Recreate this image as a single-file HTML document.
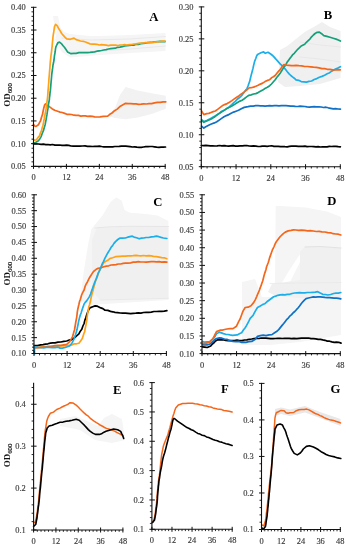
<!DOCTYPE html>
<html><head><meta charset="utf-8"><style>
html,body{margin:0;padding:0;background:#fff;}
body{width:346px;height:550px;overflow:hidden;font-family:"Liberation Serif", serif;}
svg{display:block;will-change:transform;}
.tl{font-size:8.4px;fill:#3a3a3a;stroke:#3a3a3a;stroke-width:0.15px;}
</style></head><body>
<svg width="346" height="550" viewBox="0 0 346 550" font-family='"Liberation Serif", serif' font-size="8" fill="#262626">
<rect width="346" height="550" fill="#fff"/>
<polygon points="53.0,16.0 58.0,16.0 60.0,26.0 58.0,30.0 55.0,30.0" fill="#f5f5f5" fill-opacity="1" stroke="none"/>
<polygon points="57.0,30.0 60.0,27.0 64.0,32.0 70.0,34.0 90.0,36.0 100.0,36.0 130.0,35.0 165.5,33.0 165.5,51.0 130.0,53.0 100.0,55.0 70.0,57.5 62.0,52.0 58.0,45.0 55.0,40.0" fill="#f5f5f5" fill-opacity="1" stroke="none"/>
<polyline points="62.0,38.0 90.0,40.0 130.0,39.0 165.5,36.5" fill="none" stroke="#e6e6e6" stroke-width="0.8" stroke-linejoin="round" stroke-linecap="round"/>
<polyline points="68.0,51.0 90.0,51.5 130.0,49.0 165.5,46.0" fill="none" stroke="#e6e6e6" stroke-width="0.8" stroke-linejoin="round" stroke-linecap="round"/>
<polygon points="108.0,116.0 115.0,108.0 120.0,95.0 125.6,87.1 137.7,90.6 151.6,93.2 165.8,95.8 165.8,108.8 151.6,114.0 137.7,117.5 125.6,119.2 115.0,118.0" fill="#f2f2f2" fill-opacity="1" stroke="none"/>
<polygon points="280.0,50.0 287.3,46.0 296.0,39.0 304.7,32.1 316.8,25.2 322.0,22.0 330.0,27.0 340.5,31.0 340.5,78.0 320.0,84.0 300.0,86.0 285.0,87.0 278.0,82.0" fill="#f0f0f0" fill-opacity="1" stroke="none"/>
<polyline points="300.0,42.0 320.0,45.0 340.5,47.0" fill="none" stroke="#e6e6e6" stroke-width="0.8" stroke-linejoin="round" stroke-linecap="round"/>
<polyline points="300.0,57.0 320.0,59.0 340.5,62.0" fill="none" stroke="#e6e6e6" stroke-width="0.8" stroke-linejoin="round" stroke-linecap="round"/>
<polygon points="80.0,300.0 84.0,270.0 88.0,245.0 91.5,229.0 102.5,215.5 110.7,201.7 116.2,197.6 121.7,200.4 124.5,210.0 130.0,212.7 146.4,214.1 157.4,215.5 168.4,221.0 168.4,300.0 120.0,303.0 90.0,305.0" fill="#f5f5f5" fill-opacity="1" stroke="none"/>
<polygon points="92.0,240.0 97.0,227.8 130.0,226.5 168.4,226.5 168.4,298.5 130.0,299.0 100.0,300.0 92.0,290.0" fill="#f0f0f0" fill-opacity="1" stroke="none"/>
<polyline points="95.0,228.0 110.0,226.8 130.0,226.3 168.4,226.5" fill="none" stroke="#e4e4e4" stroke-width="0.9" stroke-linejoin="round" stroke-linecap="round"/>
<polyline points="100.0,300.0 130.0,299.3 168.4,298.3" fill="none" stroke="#e6e6e6" stroke-width="0.8" stroke-linejoin="round" stroke-linecap="round"/>
<polygon points="275.0,283.0 275.7,206.0 281.0,206.0 305.6,207.5 327.8,211.7 341.0,217.0 341.0,247.0 305.0,247.0 296.0,260.0 287.0,274.0 280.0,286.0" fill="#f5f5f5" fill-opacity="1" stroke="none"/>
<polygon points="242.0,282.0 255.0,279.0 262.0,297.0 282.0,297.0 290.0,282.0 300.0,262.0 306.0,252.0 341.0,250.0 341.0,335.0 300.0,342.0 270.0,345.0 242.0,345.0" fill="#f5f5f5" fill-opacity="1" stroke="none"/>
<polygon points="300.0,252.0 305.0,246.5 341.0,247.5 341.0,298.0 300.0,298.0 276.0,296.0 268.0,292.0 272.0,284.0 300.0,280.0" fill="#f0f0f0" fill-opacity="1" stroke="none"/>
<polyline points="305.0,247.0 320.0,246.5 341.0,248.0" fill="none" stroke="#e2e2e2" stroke-width="1.0" stroke-linejoin="round" stroke-linecap="round"/>
<polyline points="270.0,283.5 300.0,283.0 341.0,282.5" fill="none" stroke="#e8e8e8" stroke-width="0.8" stroke-linejoin="round" stroke-linecap="round"/>
<polygon points="60.0,419.0 75.0,416.0 85.0,420.0 98.0,426.0 104.0,418.0 112.0,414.0 122.0,419.0 125.0,440.0 112.0,443.0 95.0,440.0 80.0,430.0 60.0,426.0" fill="#f5f5f5" fill-opacity="1" stroke="none"/>
<polygon points="275.0,409.0 281.0,407.5 290.0,409.5 305.0,406.0 320.0,412.0 340.5,419.0 340.5,426.0 320.0,418.0 305.0,412.5 290.0,416.0 281.0,414.0 275.0,416.0" fill="#e8e8e8" fill-opacity="1" stroke="none"/>
<polyline points="33.4,124.4 34.7,126.0 36.1,126.4 38.4,124.8 39.5,122.6 40.6,120.7 41.5,117.2 42.5,114.4 43.1,111.2 43.8,108.0 44.7,104.8 45.6,103.9 47.0,105.3 49.3,106.6 52.0,108.7 54.7,110.3 58.4,111.5 60.0,112.1 62.3,112.5 64.6,113.4 66.9,114.3 69.2,114.4 71.6,114.5 73.9,115.2 76.2,115.3 78.5,115.4 80.8,116.1 83.1,115.9 85.4,115.9 87.7,116.4 90.0,116.1 92.4,116.4 94.7,116.9 97.3,117.0 99.9,116.9 103.4,116.4 107.7,116.1 109.8,114.3 112.0,113.0 114.6,110.7 117.2,109.1 120.4,106.2 123.0,104.7 125.6,103.3 128.2,103.7 130.8,103.6 133.4,103.9 136.0,103.9 138.6,104.3 141.2,104.1 143.8,103.8 146.4,104.0 149.0,103.7 151.6,103.6 154.5,102.9 157.4,102.4 160.3,102.4 163.1,101.8 165.8,101.9" fill="none" stroke="#F4661A" stroke-width="1.7" stroke-linejoin="round" stroke-linecap="round"/>
<polyline points="33.4,143.0 35.6,142.5 38.4,140.7 39.8,138.9 41.1,136.6 42.2,133.5 43.4,130.7 44.3,127.6 45.2,124.4 45.6,122.1 46.1,119.5 46.5,117.1 47.0,114.4 47.4,111.3 47.9,108.9 48.3,105.2 48.8,102.5 49.3,100.0 49.5,97.3 49.8,95.5 50.0,93.2 50.3,90.9 50.5,88.9 50.7,86.6 50.9,84.2 51.1,81.8 51.3,79.8 51.5,77.5 51.7,75.0 52.0,72.4 52.4,70.0 52.7,67.5 53.0,65.0 53.5,62.8 54.0,60.0 54.2,58.0 54.5,55.5 54.9,53.3 55.2,51.5 55.5,48.9 55.9,46.8 57.0,44.5 58.1,42.5 59.5,42.2 61.7,43.9 63.1,45.8 64.6,47.5 66.0,49.5 67.5,51.9 71.1,53.7 73.6,53.4 76.1,53.3 79.0,52.6 81.9,52.6 84.6,52.5 87.3,52.6 90.0,52.4 92.3,52.1 94.6,51.9 96.9,51.2 99.2,50.8 101.5,50.5 103.8,50.0 106.2,49.6 108.5,49.0 110.8,48.6 113.1,48.4 115.4,48.2 117.7,47.3 120.0,47.1 122.3,46.7 124.7,45.9 127.0,45.7 129.3,45.4 131.6,45.1 133.9,45.1 136.2,44.3 138.5,44.4 140.8,43.7 143.2,43.3 145.5,43.1 147.8,42.7 150.3,42.3 152.7,42.2 155.2,41.9 157.7,41.6 160.2,41.4 162.6,41.7 165.1,41.6" fill="none" stroke="#16A07A" stroke-width="1.7" stroke-linejoin="round" stroke-linecap="round"/>
<polyline points="33.4,139.4 34.7,140.3 36.5,139.8 37.9,137.7 39.3,136.2 40.4,133.1 41.5,130.7 42.1,128.1 42.8,126.0 43.4,123.5 43.8,120.8 44.3,118.5 44.7,116.2 45.2,113.7 45.6,111.6 46.1,108.9 46.4,106.8 46.7,104.5 47.0,101.6 47.5,98.0 47.7,95.8 47.9,93.4 48.0,91.1 48.2,88.9 48.4,86.8 48.6,84.7 48.8,81.9 48.9,79.4 49.1,77.0 49.3,75.0 49.5,72.2 49.7,69.8 49.9,67.5 50.1,64.8 50.3,62.1 50.5,60.0 50.8,57.5 51.0,55.3 51.3,53.3 51.6,51.1 51.8,49.0 52.1,46.6 52.3,44.0 52.5,41.7 52.8,39.3 53.0,36.7 53.4,34.0 53.8,31.8 54.1,29.4 54.5,26.6 55.6,24.4 57.3,25.8 58.8,28.8 60.2,30.9 61.7,33.5 63.1,35.2 64.9,37.1 66.7,38.8 70.3,39.3 74.0,38.1 76.1,39.6 78.3,40.3 80.5,41.0 83.3,41.3 86.2,42.2 90.0,43.9 92.3,44.1 94.6,44.1 96.9,44.3 99.2,45.0 101.5,44.7 103.8,44.9 106.2,45.2 108.5,45.7 110.8,45.2 113.1,45.1 115.4,45.2 117.7,45.7 120.0,45.0 122.3,45.0 124.7,44.7 127.0,45.0 129.3,44.7 131.6,44.5 133.9,44.0 136.2,43.9 138.5,43.4 140.8,43.2 143.2,43.0 145.5,42.6 147.8,42.7 150.1,42.5 152.4,42.6 154.8,42.2 157.1,41.9 159.4,41.6 162.2,41.1 165.1,41.1" fill="none" stroke="#FFA218" stroke-width="1.7" stroke-linejoin="round" stroke-linecap="round"/>
<polyline points="33.4,143.9 36.0,143.8 38.5,144.0 41.1,144.4 43.4,144.2 45.7,144.7 47.9,144.5 50.2,144.8 52.6,144.5 54.9,145.1 57.3,145.2 59.6,145.0 62.0,145.3 64.2,145.3 66.5,145.1 68.8,145.4 71.0,146.0 73.2,146.2 75.5,146.2 77.8,146.0 80.0,146.1 82.5,146.0 85.0,145.9 87.5,146.3 90.0,146.3 92.5,146.5 95.0,146.3 97.2,146.3 99.4,146.1 101.6,146.5 103.8,146.8 106.0,146.9 108.2,146.9 110.4,146.9 112.6,146.9 114.8,146.5 117.0,146.5 119.2,146.4 121.4,146.2 123.6,146.1 125.8,146.2 128.0,146.3 130.2,146.6 132.5,147.0 134.7,146.8 136.9,147.1 139.1,147.3 141.3,147.3 143.5,147.0 145.7,146.7 147.9,146.6 150.1,146.5 152.3,146.5 154.5,146.8 156.7,147.1 158.9,147.3 161.1,147.1 163.3,147.2 165.5,147.0" fill="none" stroke="#000000" stroke-width="1.7" stroke-linejoin="round" stroke-linecap="round"/>
<polyline points="201.3,145.5 203.6,145.7 205.9,145.3 208.1,145.6 210.4,145.9 212.7,145.9 215.0,146.0 217.2,145.8 219.5,145.5 221.8,145.8 224.1,145.6 226.3,145.9 228.6,146.1 230.9,145.9 233.2,145.7 235.4,146.1 237.7,146.1 240.0,145.8 242.3,145.8 244.5,145.6 246.8,145.5 249.1,146.0 251.4,146.2 253.6,145.9 255.9,146.2 258.2,146.5 260.5,146.4 262.7,146.2 265.0,146.2 267.2,146.3 269.4,146.0 271.7,145.8 273.9,146.4 276.1,146.4 278.3,146.4 280.5,146.7 282.7,146.5 285.0,146.7 287.2,146.8 289.4,146.4 291.6,146.2 293.8,146.2 296.0,146.1 298.3,146.4 300.5,146.3 302.7,146.3 304.9,146.2 307.1,146.7 309.4,146.5 311.6,146.5 313.8,146.6 316.0,146.9 318.2,146.7 320.4,147.0 322.7,146.8 324.9,146.8 327.1,146.8 329.3,146.4 331.5,146.5 333.7,146.4 336.0,146.3 338.2,146.7 340.4,146.8" fill="none" stroke="#000000" stroke-width="1.7" stroke-linejoin="round" stroke-linecap="round"/>
<polyline points="201.6,126.2 203.8,128.1 205.7,126.7 207.7,125.7 209.6,124.7 212.0,123.8 214.4,122.9 216.8,121.8 219.2,120.1 221.6,118.4 224.0,116.8 226.4,115.6 228.8,114.6 231.2,113.2 233.6,112.1 236.1,111.2 238.5,110.3 241.3,108.7 244.2,107.4 248.0,106.7 250.6,106.1 253.2,106.1 255.8,105.7 258.1,105.7 260.4,105.8 262.8,105.9 265.1,106.1 267.4,105.9 269.7,105.7 272.0,105.8 274.4,105.7 276.7,105.7 279.0,105.8 281.4,105.7 283.7,105.6 286.0,105.7 288.4,105.8 290.7,106.1 293.1,106.2 295.4,106.4 297.8,106.5 300.1,106.1 302.4,106.3 304.8,106.5 307.1,106.9 309.5,107.1 311.8,106.8 314.1,106.7 316.5,106.9 318.8,106.8 321.2,107.0 323.5,107.5 325.9,107.2 328.3,107.8 330.7,108.3 333.2,108.8 335.6,108.6 338.0,109.0 340.4,109.1" fill="none" stroke="#0E70C6" stroke-width="1.7" stroke-linejoin="round" stroke-linecap="round"/>
<polyline points="201.6,119.7 203.8,121.6 206.7,120.5 209.6,119.1 212.3,117.4 215.0,116.1 216.8,115.0 218.6,114.0 220.4,112.3 222.2,111.0 224.6,109.9 227.1,108.2 229.5,106.6 231.7,104.6 233.8,102.6 235.4,101.4 237.0,99.5 240.2,97.0 241.6,95.7 243.1,93.5 244.5,91.8 247.1,88.4 248.0,86.0 248.8,83.7 249.7,81.4 250.3,78.7 251.0,75.9 251.7,73.3 252.3,71.0 253.0,68.4 253.6,65.5 254.2,63.1 254.9,60.6 255.8,58.5 256.6,56.1 257.5,54.5 261.0,52.8 263.6,51.9 265.3,53.3 268.0,52.3 271.4,54.5 273.5,56.4 275.7,58.9 277.3,60.6 278.8,62.4 280.4,64.2 282.1,65.6 283.9,67.8 285.6,69.4 287.3,71.7 289.1,73.9 290.8,75.5 292.5,76.9 294.3,78.2 296.0,79.8 298.6,80.3 301.2,81.6 303.8,81.8 306.4,82.1 309.0,81.4 311.6,81.0 314.2,79.5 316.8,78.6 319.4,77.3 322.0,76.4 324.6,75.3 327.2,73.8 329.1,73.0 331.1,71.6 333.0,70.5 335.5,69.0 337.9,68.1 340.4,66.7" fill="none" stroke="#1AAEEA" stroke-width="1.7" stroke-linejoin="round" stroke-linecap="round"/>
<polyline points="201.6,120.4 203.8,122.3 206.7,121.0 209.6,119.7 212.3,118.4 215.0,116.7 216.8,115.2 218.6,113.7 220.4,112.8 222.2,111.6 224.6,110.1 227.1,108.4 229.5,107.3 231.9,106.0 234.3,104.6 236.7,103.0 240.0,101.1 242.1,100.2 244.2,98.7 246.6,96.9 248.9,95.3 251.2,94.9 253.5,94.0 255.8,93.6 258.1,92.6 260.4,91.3 262.7,90.1 265.0,88.5 267.4,87.2 269.7,85.7 271.5,84.0 273.4,81.8 275.2,79.8 276.9,77.2 278.7,75.1 280.4,72.9 281.7,70.7 283.0,68.6 284.3,66.6 285.6,65.1 286.9,62.6 288.2,60.7 289.5,58.9 290.8,57.3 292.5,54.9 294.3,53.3 296.0,51.2 297.7,49.3 299.5,47.7 301.2,46.0 304.7,44.3 306.4,42.3 308.2,40.6 309.9,39.1 311.6,36.8 313.4,35.0 315.1,33.5 317.2,32.3 319.4,32.1 321.6,33.7 323.8,35.6 326.9,36.4 330.0,37.3 334.0,38.5 336.1,39.1 338.3,40.0 340.4,41.0" fill="none" stroke="#16A07A" stroke-width="1.7" stroke-linejoin="round" stroke-linecap="round"/>
<polyline points="201.6,111.0 203.8,114.6 206.7,113.6 208.8,113.4 211.0,112.5 213.2,111.6 215.3,111.0 217.6,109.4 219.9,107.6 222.2,105.8 224.6,104.6 227.1,103.6 229.5,102.2 231.9,100.6 234.3,98.9 236.7,97.2 239.1,95.7 241.4,93.9 243.3,92.8 245.2,91.0 247.0,89.8 248.9,88.0 251.2,87.7 253.5,87.1 255.8,86.3 258.1,85.3 260.4,84.1 262.7,83.1 265.0,81.6 267.4,80.4 269.7,79.7 271.5,77.8 273.4,76.8 275.2,75.5 276.9,73.3 278.7,71.1 280.4,69.4 282.1,66.6 283.9,64.7 286.5,65.1 289.1,65.4 291.4,65.7 293.7,65.7 296.0,65.4 298.9,65.7 301.8,65.9 304.7,66.5 307.6,66.5 310.5,66.8 313.4,67.2 316.3,67.4 319.1,67.9 322.0,68.6 324.7,68.6 327.3,69.3 330.0,69.4 332.6,69.9 335.2,69.8 337.8,69.6 340.4,69.8" fill="none" stroke="#F4661A" stroke-width="1.7" stroke-linejoin="round" stroke-linecap="round"/>
<polyline points="34.2,345.7 37.5,345.6 40.7,344.9 43.1,344.6 45.5,344.1 47.9,343.8 50.3,343.1 52.7,342.9 55.1,342.8 58.0,342.2 60.9,342.0 63.8,341.4 66.7,341.0 68.8,340.2 71.0,339.9 74.2,338.0 76.6,335.8 78.9,333.9 80.3,331.2 81.8,329.3 82.9,326.0 84.1,323.5 84.9,320.1 85.8,317.7 86.7,314.8 87.5,312.5 88.7,309.7 89.9,307.9 92.7,306.8 95.1,305.9 97.4,306.2 100.8,307.9 102.9,308.6 105.0,310.2 107.8,310.4 110.5,311.4 112.8,311.8 115.0,312.4 117.6,312.6 120.2,313.0 122.8,313.2 125.4,313.2 128.0,313.4 130.6,313.6 133.2,313.3 135.8,313.2 138.4,312.9 140.9,313.1 143.5,312.5 146.1,312.4 148.7,312.3 151.3,312.1 153.9,311.5 156.5,311.5 159.1,311.4 161.7,311.4 164.3,311.1 166.9,310.6" fill="none" stroke="#000000" stroke-width="1.7" stroke-linejoin="round" stroke-linecap="round"/>
<polyline points="34.2,347.5 36.6,347.5 38.9,347.4 41.2,346.8 43.6,346.7 46.1,346.5 48.7,346.3 51.2,346.4 53.7,346.0 56.2,346.3 58.8,346.2 61.3,346.0 63.8,345.7 66.7,345.9 69.6,345.3 71.9,344.9 74.2,343.8 76.6,343.8 78.9,343.2 80.6,340.9 82.3,338.6 83.1,335.9 83.9,333.5 84.7,331.6 85.1,329.0 85.6,326.6 86.0,324.7 86.4,322.4 86.8,319.8 87.1,317.1 87.5,314.3 87.9,312.1 88.3,309.8 88.7,307.3 89.6,304.5 90.4,301.6 91.0,298.2 91.6,295.5 92.2,293.3 92.8,291.2 93.4,288.9 94.0,286.6 94.6,284.4 95.2,282.0 96.1,279.5 97.0,277.5 97.8,275.0 98.7,272.4 99.6,270.5 100.7,268.1 101.8,266.5 102.8,264.3 103.9,262.5 105.8,261.3 107.8,260.3 109.7,258.6 112.6,257.8 115.5,256.7 119.8,256.3 122.6,256.2 125.4,256.1 128.0,255.9 130.6,255.8 133.2,255.7 135.8,255.3 138.4,255.6 140.9,255.8 143.5,255.5 146.1,255.8 148.7,255.7 151.3,255.9 153.9,256.5 156.5,256.7 159.1,257.1 161.7,257.7 164.3,257.8 166.9,258.7" fill="none" stroke="#FFA218" stroke-width="1.7" stroke-linejoin="round" stroke-linecap="round"/>
<polyline points="34.2,348.2 37.5,347.6 40.7,347.7 43.1,347.1 45.5,347.0 47.9,346.7 50.3,346.5 52.7,346.2 55.1,345.7 58.0,345.4 60.9,345.3 63.8,344.8 66.7,344.3 69.6,341.8 71.0,339.4 72.5,337.0 73.2,334.6 73.8,332.0 74.5,330.0 74.9,327.5 75.4,324.5 75.8,322.0 76.2,319.9 76.6,317.8 77.0,315.0 77.3,312.2 77.7,309.7 78.3,306.9 78.9,304.5 79.5,301.6 80.2,299.8 80.9,297.4 81.6,295.0 82.8,292.4 84.1,290.0 85.1,286.4 86.2,284.0 87.3,282.2 88.4,279.8 89.5,277.7 90.9,275.5 92.4,273.1 93.8,271.2 95.9,269.6 98.1,268.3 101.0,267.8 103.9,266.8 106.3,266.1 108.7,265.8 111.1,265.0 113.5,264.8 116.0,264.6 118.4,264.0 120.7,264.0 123.1,263.4 125.4,263.1 128.0,263.1 130.6,262.8 133.2,262.2 135.8,262.2 138.4,261.7 140.9,262.0 143.5,262.0 146.1,262.2 148.7,261.9 151.3,261.7 153.9,261.7 156.5,261.9 159.1,261.7 161.7,262.2 164.3,261.8 166.9,262.2" fill="none" stroke="#F4661A" stroke-width="1.7" stroke-linejoin="round" stroke-linecap="round"/>
<polyline points="34.2,346.7 37.5,347.3 40.7,347.5 43.6,347.8 46.4,347.4 49.3,347.5 52.2,347.6 55.1,347.6 58.0,347.2 60.1,348.1 62.3,348.2 65.2,347.5 67.4,346.8 69.6,346.0 71.9,343.2 73.1,340.8 74.2,338.6 74.9,336.2 75.7,334.2 76.4,331.8 77.1,329.3 77.5,327.0 78.0,324.7 78.5,322.2 78.9,320.1 79.6,317.4 80.3,315.0 81.1,313.1 81.8,310.8 82.6,308.3 83.3,306.4 84.1,303.9 85.5,302.1 87.0,300.4 89.3,296.9 90.6,294.0 91.4,291.5 92.2,289.4 93.0,286.9 93.8,284.9 94.7,282.4 95.5,280.5 96.4,278.4 97.2,276.1 98.1,273.4 99.0,271.7 99.9,269.8 100.7,267.8 101.6,265.5 102.5,263.2 103.6,261.4 104.7,258.7 105.7,256.8 106.8,254.6 108.2,252.2 109.7,249.9 111.1,247.3 112.6,245.6 114.0,243.4 115.5,241.6 117.8,239.5 120.2,238.0 122.8,238.1 125.4,238.0 127.7,237.2 130.0,236.7 132.3,236.2 134.0,237.1 136.6,237.8 139.2,238.8 141.5,238.1 143.8,238.0 146.1,237.5 148.7,237.5 151.3,236.9 153.9,236.6 156.5,236.2 158.8,236.7 161.1,237.4 163.4,238.0 166.9,238.5" fill="none" stroke="#1AAEEA" stroke-width="1.7" stroke-linejoin="round" stroke-linecap="round"/>
<polyline points="34.5,347.0 34.5,354.0" fill="none" stroke="#1AAEEA" stroke-width="1.7" stroke-linejoin="round" stroke-linecap="round"/>
<polyline points="202.3,346.8 204.8,347.1 207.2,347.5 210.7,346.0 212.4,344.0 214.2,342.5 215.9,340.7 217.7,339.7 221.1,339.9 223.4,339.7 225.7,340.5 228.0,340.6 232.0,340.7 234.5,340.6 237.0,340.2 239.5,340.5 242.0,340.6 244.5,340.0 246.9,339.9 249.3,339.3 251.7,339.0 254.1,338.6 256.5,338.4 258.9,338.5 261.2,338.0 263.6,338.1 265.9,338.1 268.3,338.3 270.6,338.6 273.0,338.7 275.3,338.5 277.7,338.4 280.0,338.4 282.3,338.5 284.6,338.4 286.9,338.4 289.2,338.3 291.5,338.7 294.0,338.3 296.6,338.7 299.1,338.4 301.5,338.1 303.9,338.1 306.2,338.1 308.6,338.0 311.0,338.6 313.4,338.6 315.8,338.8 318.2,339.3 320.5,339.4 322.8,339.9 325.0,340.3 327.3,341.1 329.6,341.2 331.9,341.9 334.2,342.4 336.4,342.2 338.7,342.3 341.0,343.1" fill="none" stroke="#000000" stroke-width="1.7" stroke-linejoin="round" stroke-linecap="round"/>
<polyline points="202.3,344.9 204.7,344.8 207.2,344.9 209.6,344.3 211.3,343.0 213.1,341.5 214.8,339.7 216.5,338.5 219.4,337.9 221.9,338.2 224.4,339.1 226.9,339.4 230.0,340.7 232.9,341.3 235.8,341.6 238.7,341.4 241.1,342.3 243.5,342.2 245.9,342.4 248.8,341.7 251.7,341.4 255.3,339.2 257.5,336.4 260.3,335.6 263.2,335.2 266.1,335.6 269.0,334.9 271.9,334.6 274.6,332.8 277.3,331.0 278.9,329.4 280.5,327.4 282.1,325.4 283.7,323.5 285.3,321.4 286.9,319.3 288.5,317.8 290.1,315.8 291.6,314.6 293.2,312.7 294.8,311.5 296.4,309.7 298.0,308.0 299.6,305.9 301.2,303.7 302.8,301.8 304.4,300.2 306.1,298.6 308.4,298.0 310.7,297.5 313.3,296.9 315.6,297.1 317.9,296.9 320.3,296.8 322.6,297.1 324.9,297.4 327.2,297.6 329.4,297.7 331.7,297.8 334.0,298.2 336.3,298.1 338.5,298.4 340.8,298.9" fill="none" stroke="#0E70C6" stroke-width="1.7" stroke-linejoin="round" stroke-linecap="round"/>
<polyline points="202.3,341.4 204.9,342.2 207.2,341.9 209.6,341.7 213.0,339.1 214.8,336.8 216.5,333.9 219.4,332.1 223.4,333.6 225.7,334.3 228.0,334.5 230.0,334.9 232.4,335.3 234.8,335.1 237.2,334.9 239.4,333.7 241.6,332.7 243.4,330.0 245.2,327.7 246.6,325.4 248.1,322.6 249.1,320.7 250.2,318.3 253.1,315.4 254.2,313.2 255.3,311.1 257.5,307.5 260.3,306.0 262.5,304.6 264.7,303.8 266.9,301.8 269.0,300.2 271.3,298.5 273.6,296.8 275.7,296.1 277.9,295.3 280.0,294.8 282.4,294.7 284.9,294.9 287.3,294.4 289.7,294.3 292.1,293.5 294.5,293.0 296.9,292.8 299.5,292.6 302.1,292.8 304.7,292.8 307.6,292.5 310.5,292.5 312.9,292.3 315.3,292.2 317.7,291.7 320.2,293.1 322.7,294.3 325.2,294.5 327.8,295.0 330.7,294.5 333.6,293.5 336.0,293.2 338.4,293.1 340.8,292.5" fill="none" stroke="#1AAEEA" stroke-width="1.7" stroke-linejoin="round" stroke-linecap="round"/>
<polyline points="202.3,343.1 204.9,343.7 207.2,342.9 209.6,342.5 211.3,340.2 213.0,338.5 214.2,336.2 215.3,333.8 216.5,331.6 220.0,330.2 222.3,330.1 224.6,329.5 226.9,329.0 230.0,328.6 233.0,328.6 236.5,326.2 237.7,323.6 238.9,321.1 240.1,319.0 241.1,316.2 242.0,313.8 243.0,311.1 245.2,307.5 248.1,307.2 251.0,305.7 253.8,302.4 255.2,299.8 256.7,296.6 257.6,294.3 258.6,292.1 259.5,290.0 260.3,287.5 261.1,285.7 261.9,283.1 262.7,281.0 263.4,278.2 264.0,275.8 264.6,273.6 265.3,271.6 266.0,269.5 266.6,266.8 267.3,265.0 268.1,263.0 268.8,260.8 269.5,258.1 270.4,255.6 271.4,252.7 272.3,250.2 273.2,248.4 274.1,246.5 275.1,244.0 276.0,242.2 277.4,240.3 278.9,238.3 280.3,236.5 282.0,234.9 283.6,233.4 285.3,232.1 288.2,230.9 291.1,230.4 293.5,229.9 296.0,230.0 298.4,230.4 301.5,230.1 304.7,230.4 307.6,230.8 310.4,230.6 313.3,231.0 316.2,231.5 319.1,231.4 322.0,231.8 324.9,232.0 327.8,232.6 330.7,232.8 333.2,233.7 335.8,234.0 338.3,234.2 340.8,235.0" fill="none" stroke="#F4661A" stroke-width="1.7" stroke-linejoin="round" stroke-linecap="round"/>
<polyline points="33.6,522.1 35.1,522.9 35.8,519.9 36.5,517.0 36.8,514.6 37.2,512.6 37.5,510.0 37.8,507.2 38.2,504.5 38.5,502.0 38.7,500.0 38.9,497.4 39.1,495.2 39.3,493.3 39.5,491.3 39.8,488.6 40.0,486.2 40.2,483.9 40.4,482.2 40.6,480.0 40.8,477.6 41.0,475.7 41.2,473.7 41.4,471.3 41.7,468.9 41.9,467.1 42.1,464.8 42.3,462.3 42.5,460.3 42.7,458.0 42.9,455.7 43.1,453.3 43.3,450.8 43.5,449.0 43.7,447.0 43.9,444.7 44.1,442.7 44.3,440.0 44.5,437.4 44.8,434.8 45.0,432.4 45.3,430.0 45.7,428.0 46.0,425.9 46.4,423.4 46.8,421.0 47.6,418.6 48.4,416.5 50.3,413.3 53.5,412.1 56.7,409.5 60.0,408.1 62.0,407.0 64.1,406.0 66.1,405.1 68.1,404.2 70.1,402.7 73.2,403.1 76.2,405.1 78.2,407.0 80.3,409.3 82.3,411.2 84.3,413.1 86.3,414.9 88.3,416.2 90.3,418.3 92.4,419.9 94.4,421.3 96.4,422.6 98.5,423.8 100.5,425.3 102.5,426.2 104.5,427.5 106.5,428.4 109.5,429.2 112.6,430.4 114.6,431.1 116.7,432.4 118.7,433.4 120.7,434.3 122.7,435.5" fill="none" stroke="#F4661A" stroke-width="1.5" stroke-linejoin="round" stroke-linecap="round"/>
<polyline points="33.6,526.5 35.8,524.3 36.4,520.8 37.0,518.0 37.3,514.9 37.7,512.5 38.0,510.0 38.3,507.1 38.7,504.9 39.0,502.0 39.2,500.2 39.4,498.1 39.6,495.5 39.8,493.0 40.0,490.6 40.3,488.6 40.5,486.6 40.7,484.4 40.9,482.0 41.1,480.0 41.3,477.6 41.5,475.6 41.7,473.5 41.9,471.4 42.2,469.4 42.4,467.1 42.6,464.5 42.8,462.6 43.0,460.1 43.2,458.0 43.4,455.7 43.6,453.3 43.8,451.3 44.1,448.7 44.3,446.3 44.5,444.0 44.7,442.0 45.0,439.4 45.2,437.6 45.5,435.3 45.7,433.0 46.5,430.4 47.2,428.0 49.1,426.0 52.2,425.2 54.5,424.2 56.7,423.5 60.0,422.3 63.0,422.1 66.1,421.3 69.1,420.9 72.1,420.3 76.2,419.3 79.2,420.3 82.3,423.3 84.3,425.2 86.3,427.4 88.3,429.6 90.3,431.4 92.8,433.1 95.4,434.4 99.4,434.4 101.5,433.8 103.5,432.4 106.0,431.3 108.6,430.4 111.1,429.7 113.6,429.0 117.7,429.8 120.7,431.4 121.7,433.6 122.7,435.5 123.7,438.5" fill="none" stroke="#000000" stroke-width="1.6" stroke-linejoin="round" stroke-linecap="round"/>
<polyline points="152.1,522.5 154.0,520.0 154.6,517.0 155.2,513.6 155.5,511.5 155.8,508.4 156.2,505.7 156.5,503.4 156.7,500.7 156.9,498.4 157.0,496.6 157.2,494.3 157.4,491.9 157.7,489.7 157.9,486.9 158.2,484.6 158.4,481.7 158.7,479.6 159.1,477.1 159.4,475.2 159.7,472.8 159.9,471.0 160.2,468.3 160.4,466.1 160.6,464.0 160.9,461.5 161.1,459.3 161.4,456.9 161.6,455.0 162.1,452.3 162.6,450.0 163.0,447.9 163.5,445.7 164.4,443.3 165.4,440.7 166.7,437.6 167.9,434.9 168.5,432.2 169.2,430.0 169.8,428.0 170.5,425.1 171.3,422.1 172.0,419.5 173.0,416.1 174.0,413.3 174.8,410.4 175.7,408.1 178.3,405.0 180.5,404.3 182.7,403.5 185.3,403.5 187.9,403.3 190.2,403.2 192.5,403.2 194.8,403.8 197.4,404.0 200.0,404.7 202.2,405.1 204.3,405.8 206.5,406.0 208.7,406.8 210.8,407.0 213.0,407.9 215.2,408.4 217.3,409.0 219.5,409.2 221.7,409.6 223.8,410.5 226.0,410.7 229.1,411.3 232.1,412.0" fill="none" stroke="#F4661A" stroke-width="1.5" stroke-linejoin="round" stroke-linecap="round"/>
<polyline points="152.6,522.5 154.5,520.0 155.1,516.8 155.7,513.6 156.0,511.0 156.3,508.4 156.7,506.2 157.0,503.4 157.2,501.6 157.4,498.9 157.5,496.4 157.7,494.3 157.9,491.9 158.2,489.2 158.4,486.4 158.7,484.3 158.9,481.7 159.2,479.5 159.6,477.5 159.9,475.1 160.2,472.8 160.8,469.9 161.3,467.6 161.8,464.9 162.2,462.1 162.7,459.7 163.3,457.0 163.9,455.1 164.6,453.0 165.2,450.8 165.8,448.6 166.5,445.6 167.1,443.2 167.8,440.6 168.4,438.1 169.1,435.8 169.7,433.4 170.3,431.1 171.0,429.2 171.5,426.8 171.9,425.0 172.4,422.4 172.9,420.3 173.6,418.6 174.5,418.5 177.5,421.1 180.1,422.8 182.7,424.6 184.8,426.1 187.0,427.6 189.2,428.5 191.3,429.8 193.5,430.6 195.7,432.1 197.8,433.4 200.0,434.1 202.2,435.2 204.3,435.6 206.5,436.9 208.7,437.6 210.8,438.4 213.0,439.4 215.2,440.2 217.3,440.7 219.5,441.8 221.7,442.1 223.8,443.1 226.0,443.7 229.1,444.4 232.1,445.4" fill="none" stroke="#000000" stroke-width="1.6" stroke-linejoin="round" stroke-linecap="round"/>
<polyline points="261.8,525.0 264.0,525.8 264.7,523.2 265.4,520.7 265.8,518.4 266.1,516.0 266.4,513.1 266.8,510.6 267.1,508.0 267.3,505.6 267.6,503.3 267.8,500.8 268.1,498.2 268.3,496.1 268.5,493.4 268.8,491.3 269.0,489.2 269.2,486.3 269.5,484.1 269.7,481.7 270.0,479.5 270.3,476.7 270.6,474.7 270.9,472.0 271.2,469.9 271.4,467.5 271.6,465.1 271.8,462.8 271.9,460.3 272.1,457.9 272.3,455.6 272.5,453.1 272.7,450.8 272.9,448.5 273.0,446.1 273.2,443.6 273.4,440.9 273.5,438.8 273.7,436.5 273.8,434.0 274.0,431.8 274.2,429.5 274.3,427.4 274.5,424.9 274.7,422.3 274.8,420.0 275.0,417.8 275.6,414.9 276.3,412.7 278.4,411.7 281.0,410.4 284.1,410.8 286.0,412.7 288.0,413.3 290.0,412.7 293.7,412.5 296.3,410.7 298.9,409.8 301.5,409.6 304.1,409.4 306.7,409.1 309.0,409.9 311.2,411.2 313.5,412.5 315.8,413.8 317.9,414.4 320.0,415.6 322.0,416.3 324.1,417.6 326.2,418.5 328.6,419.4 331.0,420.1 333.4,420.4 335.7,421.3 338.1,422.0 340.5,422.9" fill="none" stroke="#F4661A" stroke-width="1.5" stroke-linejoin="round" stroke-linecap="round"/>
<polyline points="261.8,527.9 263.2,529.4 265.4,526.5 265.8,524.6 266.1,522.1 266.4,520.2 266.8,517.8 267.1,515.8 267.3,513.4 267.6,511.0 267.8,508.2 268.1,506.1 268.3,503.4 268.5,501.1 268.8,499.0 269.0,496.6 269.2,493.7 269.5,491.5 269.7,488.9 269.9,486.9 270.1,484.0 270.3,481.6 270.5,479.5 270.8,476.8 271.0,474.8 271.2,472.2 271.4,469.9 271.6,467.7 271.8,465.0 272.0,462.8 272.1,460.7 272.3,458.0 272.5,455.6 272.7,453.4 272.9,451.0 273.1,448.5 273.4,445.9 273.6,443.6 273.8,441.2 274.0,439.3 274.2,436.9 274.5,434.4 274.8,432.1 275.0,429.2 276.0,427.1 277.0,425.1 280.1,424.1 282.5,425.1 283.8,427.8 285.1,430.2 285.9,432.3 286.6,434.7 287.4,437.1 288.2,439.3 288.9,441.5 289.7,444.1 290.4,446.3 291.2,448.4 292.7,451.0 294.2,453.4 297.3,454.9 300.3,453.0 301.8,451.3 303.3,449.0 306.4,446.4 309.4,445.8 313.4,447.0 315.9,448.3 318.5,449.8 321.1,451.7 323.6,453.0 326.1,454.5 328.6,455.5 331.6,456.2 334.7,456.9 337.8,457.9 340.8,458.5" fill="none" stroke="#000000" stroke-width="1.6" stroke-linejoin="round" stroke-linecap="round"/>
<line x1="33.50" y1="6.80" x2="33.50" y2="166.90" stroke="#111" stroke-width="1.1"/>
<line x1="33.00" y1="166.40" x2="165.70" y2="166.40" stroke="#111" stroke-width="1.1"/>
<line x1="31.00" y1="166.40" x2="36.50" y2="166.40" stroke="#111" stroke-width="1"/>
<text x="25.60" y="169.30" text-anchor="end" class="tl">0.05</text>
<line x1="31.50" y1="161.85" x2="33.50" y2="161.85" stroke="#111" stroke-width="0.9"/>
<line x1="31.50" y1="157.31" x2="33.50" y2="157.31" stroke="#111" stroke-width="0.9"/>
<line x1="31.50" y1="152.76" x2="33.50" y2="152.76" stroke="#111" stroke-width="0.9"/>
<line x1="31.50" y1="148.22" x2="33.50" y2="148.22" stroke="#111" stroke-width="0.9"/>
<line x1="31.00" y1="143.67" x2="36.50" y2="143.67" stroke="#111" stroke-width="1"/>
<text x="25.60" y="146.57" text-anchor="end" class="tl">0.10</text>
<line x1="31.50" y1="139.13" x2="33.50" y2="139.13" stroke="#111" stroke-width="0.9"/>
<line x1="31.50" y1="134.58" x2="33.50" y2="134.58" stroke="#111" stroke-width="0.9"/>
<line x1="31.50" y1="130.03" x2="33.50" y2="130.03" stroke="#111" stroke-width="0.9"/>
<line x1="31.50" y1="125.49" x2="33.50" y2="125.49" stroke="#111" stroke-width="0.9"/>
<line x1="31.00" y1="120.94" x2="36.50" y2="120.94" stroke="#111" stroke-width="1"/>
<text x="25.60" y="123.84" text-anchor="end" class="tl">0.15</text>
<line x1="31.50" y1="116.40" x2="33.50" y2="116.40" stroke="#111" stroke-width="0.9"/>
<line x1="31.50" y1="111.85" x2="33.50" y2="111.85" stroke="#111" stroke-width="0.9"/>
<line x1="31.50" y1="107.31" x2="33.50" y2="107.31" stroke="#111" stroke-width="0.9"/>
<line x1="31.50" y1="102.76" x2="33.50" y2="102.76" stroke="#111" stroke-width="0.9"/>
<line x1="31.00" y1="98.21" x2="36.50" y2="98.21" stroke="#111" stroke-width="1"/>
<text x="25.60" y="101.11" text-anchor="end" class="tl">0.20</text>
<line x1="31.50" y1="93.67" x2="33.50" y2="93.67" stroke="#111" stroke-width="0.9"/>
<line x1="31.50" y1="89.12" x2="33.50" y2="89.12" stroke="#111" stroke-width="0.9"/>
<line x1="31.50" y1="84.58" x2="33.50" y2="84.58" stroke="#111" stroke-width="0.9"/>
<line x1="31.50" y1="80.03" x2="33.50" y2="80.03" stroke="#111" stroke-width="0.9"/>
<line x1="31.00" y1="75.49" x2="36.50" y2="75.49" stroke="#111" stroke-width="1"/>
<text x="25.60" y="78.39" text-anchor="end" class="tl">0.25</text>
<line x1="31.50" y1="70.94" x2="33.50" y2="70.94" stroke="#111" stroke-width="0.9"/>
<line x1="31.50" y1="66.39" x2="33.50" y2="66.39" stroke="#111" stroke-width="0.9"/>
<line x1="31.50" y1="61.85" x2="33.50" y2="61.85" stroke="#111" stroke-width="0.9"/>
<line x1="31.50" y1="57.30" x2="33.50" y2="57.30" stroke="#111" stroke-width="0.9"/>
<line x1="31.00" y1="52.76" x2="36.50" y2="52.76" stroke="#111" stroke-width="1"/>
<text x="25.60" y="55.66" text-anchor="end" class="tl">0.30</text>
<line x1="31.50" y1="48.21" x2="33.50" y2="48.21" stroke="#111" stroke-width="0.9"/>
<line x1="31.50" y1="43.67" x2="33.50" y2="43.67" stroke="#111" stroke-width="0.9"/>
<line x1="31.50" y1="39.12" x2="33.50" y2="39.12" stroke="#111" stroke-width="0.9"/>
<line x1="31.50" y1="34.57" x2="33.50" y2="34.57" stroke="#111" stroke-width="0.9"/>
<line x1="31.00" y1="30.03" x2="36.50" y2="30.03" stroke="#111" stroke-width="1"/>
<text x="25.60" y="32.93" text-anchor="end" class="tl">0.35</text>
<line x1="31.50" y1="25.48" x2="33.50" y2="25.48" stroke="#111" stroke-width="0.9"/>
<line x1="31.50" y1="20.94" x2="33.50" y2="20.94" stroke="#111" stroke-width="0.9"/>
<line x1="31.50" y1="16.39" x2="33.50" y2="16.39" stroke="#111" stroke-width="0.9"/>
<line x1="31.50" y1="11.85" x2="33.50" y2="11.85" stroke="#111" stroke-width="0.9"/>
<line x1="31.00" y1="7.30" x2="36.50" y2="7.30" stroke="#111" stroke-width="1"/>
<text x="25.60" y="10.20" text-anchor="end" class="tl">0.40</text>
<line x1="33.50" y1="163.90" x2="33.50" y2="168.90" stroke="#111" stroke-width="1"/>
<text x="33.50" y="180.40" text-anchor="middle" class="tl">0</text>
<line x1="38.99" y1="166.40" x2="38.99" y2="168.20" stroke="#111" stroke-width="0.9"/>
<line x1="44.48" y1="166.40" x2="44.48" y2="168.20" stroke="#111" stroke-width="0.9"/>
<line x1="49.96" y1="166.40" x2="49.96" y2="168.20" stroke="#111" stroke-width="0.9"/>
<line x1="55.45" y1="166.40" x2="55.45" y2="168.20" stroke="#111" stroke-width="0.9"/>
<line x1="60.94" y1="166.40" x2="60.94" y2="168.20" stroke="#111" stroke-width="0.9"/>
<line x1="66.42" y1="163.90" x2="66.42" y2="168.90" stroke="#111" stroke-width="1"/>
<text x="66.42" y="180.40" text-anchor="middle" class="tl">12</text>
<line x1="71.91" y1="166.40" x2="71.91" y2="168.20" stroke="#111" stroke-width="0.9"/>
<line x1="77.40" y1="166.40" x2="77.40" y2="168.20" stroke="#111" stroke-width="0.9"/>
<line x1="82.89" y1="166.40" x2="82.89" y2="168.20" stroke="#111" stroke-width="0.9"/>
<line x1="88.38" y1="166.40" x2="88.38" y2="168.20" stroke="#111" stroke-width="0.9"/>
<line x1="93.86" y1="166.40" x2="93.86" y2="168.20" stroke="#111" stroke-width="0.9"/>
<line x1="99.35" y1="163.90" x2="99.35" y2="168.90" stroke="#111" stroke-width="1"/>
<text x="99.35" y="180.40" text-anchor="middle" class="tl">24</text>
<line x1="104.84" y1="166.40" x2="104.84" y2="168.20" stroke="#111" stroke-width="0.9"/>
<line x1="110.32" y1="166.40" x2="110.32" y2="168.20" stroke="#111" stroke-width="0.9"/>
<line x1="115.81" y1="166.40" x2="115.81" y2="168.20" stroke="#111" stroke-width="0.9"/>
<line x1="121.30" y1="166.40" x2="121.30" y2="168.20" stroke="#111" stroke-width="0.9"/>
<line x1="126.79" y1="166.40" x2="126.79" y2="168.20" stroke="#111" stroke-width="0.9"/>
<line x1="132.27" y1="163.90" x2="132.27" y2="168.90" stroke="#111" stroke-width="1"/>
<text x="132.27" y="180.40" text-anchor="middle" class="tl">36</text>
<line x1="137.76" y1="166.40" x2="137.76" y2="168.20" stroke="#111" stroke-width="0.9"/>
<line x1="143.25" y1="166.40" x2="143.25" y2="168.20" stroke="#111" stroke-width="0.9"/>
<line x1="148.74" y1="166.40" x2="148.74" y2="168.20" stroke="#111" stroke-width="0.9"/>
<line x1="154.22" y1="166.40" x2="154.22" y2="168.20" stroke="#111" stroke-width="0.9"/>
<line x1="159.71" y1="166.40" x2="159.71" y2="168.20" stroke="#111" stroke-width="0.9"/>
<line x1="165.20" y1="163.90" x2="165.20" y2="168.90" stroke="#111" stroke-width="1"/>
<text x="165.20" y="180.40" text-anchor="middle" class="tl">48</text>
<text x="153.75" y="20.80" text-anchor="middle" font-weight="bold" font-size="12.7" fill="#000">A</text>
<text transform="translate(9.60,106.80) rotate(-90)" font-size="9" font-weight="bold" fill="#111">OD<tspan font-size="6.8" dy="2.6" font-weight="normal" stroke="#111" stroke-width="0.15">600</tspan></text>
<line x1="201.30" y1="6.40" x2="201.30" y2="167.20" stroke="#111" stroke-width="1.1"/>
<line x1="200.80" y1="166.70" x2="340.80" y2="166.70" stroke="#111" stroke-width="1.1"/>
<line x1="198.80" y1="166.70" x2="204.30" y2="166.70" stroke="#111" stroke-width="1"/>
<text x="193.40" y="169.60" text-anchor="end" class="tl">0.05</text>
<line x1="199.30" y1="160.31" x2="201.30" y2="160.31" stroke="#111" stroke-width="0.9"/>
<line x1="199.30" y1="153.92" x2="201.30" y2="153.92" stroke="#111" stroke-width="0.9"/>
<line x1="199.30" y1="147.52" x2="201.30" y2="147.52" stroke="#111" stroke-width="0.9"/>
<line x1="199.30" y1="141.13" x2="201.30" y2="141.13" stroke="#111" stroke-width="0.9"/>
<line x1="198.80" y1="134.74" x2="204.30" y2="134.74" stroke="#111" stroke-width="1"/>
<text x="193.40" y="137.64" text-anchor="end" class="tl">0.10</text>
<line x1="199.30" y1="128.35" x2="201.30" y2="128.35" stroke="#111" stroke-width="0.9"/>
<line x1="199.30" y1="121.96" x2="201.30" y2="121.96" stroke="#111" stroke-width="0.9"/>
<line x1="199.30" y1="115.56" x2="201.30" y2="115.56" stroke="#111" stroke-width="0.9"/>
<line x1="199.30" y1="109.17" x2="201.30" y2="109.17" stroke="#111" stroke-width="0.9"/>
<line x1="198.80" y1="102.78" x2="204.30" y2="102.78" stroke="#111" stroke-width="1"/>
<text x="193.40" y="105.68" text-anchor="end" class="tl">0.15</text>
<line x1="199.30" y1="96.39" x2="201.30" y2="96.39" stroke="#111" stroke-width="0.9"/>
<line x1="199.30" y1="90.00" x2="201.30" y2="90.00" stroke="#111" stroke-width="0.9"/>
<line x1="199.30" y1="83.60" x2="201.30" y2="83.60" stroke="#111" stroke-width="0.9"/>
<line x1="199.30" y1="77.21" x2="201.30" y2="77.21" stroke="#111" stroke-width="0.9"/>
<line x1="198.80" y1="70.82" x2="204.30" y2="70.82" stroke="#111" stroke-width="1"/>
<text x="193.40" y="73.72" text-anchor="end" class="tl">0.20</text>
<line x1="199.30" y1="64.43" x2="201.30" y2="64.43" stroke="#111" stroke-width="0.9"/>
<line x1="199.30" y1="58.04" x2="201.30" y2="58.04" stroke="#111" stroke-width="0.9"/>
<line x1="199.30" y1="51.64" x2="201.30" y2="51.64" stroke="#111" stroke-width="0.9"/>
<line x1="199.30" y1="45.25" x2="201.30" y2="45.25" stroke="#111" stroke-width="0.9"/>
<line x1="198.80" y1="38.86" x2="204.30" y2="38.86" stroke="#111" stroke-width="1"/>
<text x="193.40" y="41.76" text-anchor="end" class="tl">0.25</text>
<line x1="199.30" y1="32.47" x2="201.30" y2="32.47" stroke="#111" stroke-width="0.9"/>
<line x1="199.30" y1="26.08" x2="201.30" y2="26.08" stroke="#111" stroke-width="0.9"/>
<line x1="199.30" y1="19.68" x2="201.30" y2="19.68" stroke="#111" stroke-width="0.9"/>
<line x1="199.30" y1="13.29" x2="201.30" y2="13.29" stroke="#111" stroke-width="0.9"/>
<line x1="198.80" y1="6.90" x2="204.30" y2="6.90" stroke="#111" stroke-width="1"/>
<text x="193.40" y="9.80" text-anchor="end" class="tl">0.30</text>
<line x1="201.30" y1="164.20" x2="201.30" y2="169.20" stroke="#111" stroke-width="1"/>
<text x="201.30" y="180.70" text-anchor="middle" class="tl">0</text>
<line x1="207.09" y1="166.70" x2="207.09" y2="168.50" stroke="#111" stroke-width="0.9"/>
<line x1="212.88" y1="166.70" x2="212.88" y2="168.50" stroke="#111" stroke-width="0.9"/>
<line x1="218.68" y1="166.70" x2="218.68" y2="168.50" stroke="#111" stroke-width="0.9"/>
<line x1="224.47" y1="166.70" x2="224.47" y2="168.50" stroke="#111" stroke-width="0.9"/>
<line x1="230.26" y1="166.70" x2="230.26" y2="168.50" stroke="#111" stroke-width="0.9"/>
<line x1="236.05" y1="164.20" x2="236.05" y2="169.20" stroke="#111" stroke-width="1"/>
<text x="236.05" y="180.70" text-anchor="middle" class="tl">12</text>
<line x1="241.84" y1="166.70" x2="241.84" y2="168.50" stroke="#111" stroke-width="0.9"/>
<line x1="247.63" y1="166.70" x2="247.63" y2="168.50" stroke="#111" stroke-width="0.9"/>
<line x1="253.43" y1="166.70" x2="253.43" y2="168.50" stroke="#111" stroke-width="0.9"/>
<line x1="259.22" y1="166.70" x2="259.22" y2="168.50" stroke="#111" stroke-width="0.9"/>
<line x1="265.01" y1="166.70" x2="265.01" y2="168.50" stroke="#111" stroke-width="0.9"/>
<line x1="270.80" y1="164.20" x2="270.80" y2="169.20" stroke="#111" stroke-width="1"/>
<text x="270.80" y="180.70" text-anchor="middle" class="tl">24</text>
<line x1="276.59" y1="166.70" x2="276.59" y2="168.50" stroke="#111" stroke-width="0.9"/>
<line x1="282.38" y1="166.70" x2="282.38" y2="168.50" stroke="#111" stroke-width="0.9"/>
<line x1="288.18" y1="166.70" x2="288.18" y2="168.50" stroke="#111" stroke-width="0.9"/>
<line x1="293.97" y1="166.70" x2="293.97" y2="168.50" stroke="#111" stroke-width="0.9"/>
<line x1="299.76" y1="166.70" x2="299.76" y2="168.50" stroke="#111" stroke-width="0.9"/>
<line x1="305.55" y1="164.20" x2="305.55" y2="169.20" stroke="#111" stroke-width="1"/>
<text x="305.55" y="180.70" text-anchor="middle" class="tl">36</text>
<line x1="311.34" y1="166.70" x2="311.34" y2="168.50" stroke="#111" stroke-width="0.9"/>
<line x1="317.13" y1="166.70" x2="317.13" y2="168.50" stroke="#111" stroke-width="0.9"/>
<line x1="322.93" y1="166.70" x2="322.93" y2="168.50" stroke="#111" stroke-width="0.9"/>
<line x1="328.72" y1="166.70" x2="328.72" y2="168.50" stroke="#111" stroke-width="0.9"/>
<line x1="334.51" y1="166.70" x2="334.51" y2="168.50" stroke="#111" stroke-width="0.9"/>
<line x1="340.30" y1="164.20" x2="340.30" y2="169.20" stroke="#111" stroke-width="1"/>
<text x="340.30" y="180.70" text-anchor="middle" class="tl">48</text>
<text x="327.90" y="18.60" text-anchor="middle" font-weight="bold" font-size="12.7" fill="#000">B</text>
<line x1="34.00" y1="194.30" x2="34.00" y2="354.00" stroke="#111" stroke-width="1.1"/>
<line x1="33.50" y1="353.50" x2="166.90" y2="353.50" stroke="#111" stroke-width="1.1"/>
<line x1="31.50" y1="353.50" x2="37.00" y2="353.50" stroke="#111" stroke-width="1"/>
<text x="26.10" y="356.40" text-anchor="end" class="tl">0.10</text>
<line x1="32.00" y1="350.33" x2="34.00" y2="350.33" stroke="#111" stroke-width="0.9"/>
<line x1="32.00" y1="347.15" x2="34.00" y2="347.15" stroke="#111" stroke-width="0.9"/>
<line x1="32.00" y1="343.98" x2="34.00" y2="343.98" stroke="#111" stroke-width="0.9"/>
<line x1="32.00" y1="340.80" x2="34.00" y2="340.80" stroke="#111" stroke-width="0.9"/>
<line x1="31.50" y1="337.63" x2="37.00" y2="337.63" stroke="#111" stroke-width="1"/>
<text x="26.10" y="340.53" text-anchor="end" class="tl">0.15</text>
<line x1="32.00" y1="334.46" x2="34.00" y2="334.46" stroke="#111" stroke-width="0.9"/>
<line x1="32.00" y1="331.28" x2="34.00" y2="331.28" stroke="#111" stroke-width="0.9"/>
<line x1="32.00" y1="328.11" x2="34.00" y2="328.11" stroke="#111" stroke-width="0.9"/>
<line x1="32.00" y1="324.93" x2="34.00" y2="324.93" stroke="#111" stroke-width="0.9"/>
<line x1="31.50" y1="321.76" x2="37.00" y2="321.76" stroke="#111" stroke-width="1"/>
<text x="26.10" y="324.66" text-anchor="end" class="tl">0.20</text>
<line x1="32.00" y1="318.59" x2="34.00" y2="318.59" stroke="#111" stroke-width="0.9"/>
<line x1="32.00" y1="315.41" x2="34.00" y2="315.41" stroke="#111" stroke-width="0.9"/>
<line x1="32.00" y1="312.24" x2="34.00" y2="312.24" stroke="#111" stroke-width="0.9"/>
<line x1="32.00" y1="309.06" x2="34.00" y2="309.06" stroke="#111" stroke-width="0.9"/>
<line x1="31.50" y1="305.89" x2="37.00" y2="305.89" stroke="#111" stroke-width="1"/>
<text x="26.10" y="308.79" text-anchor="end" class="tl">0.25</text>
<line x1="32.00" y1="302.72" x2="34.00" y2="302.72" stroke="#111" stroke-width="0.9"/>
<line x1="32.00" y1="299.54" x2="34.00" y2="299.54" stroke="#111" stroke-width="0.9"/>
<line x1="32.00" y1="296.37" x2="34.00" y2="296.37" stroke="#111" stroke-width="0.9"/>
<line x1="32.00" y1="293.19" x2="34.00" y2="293.19" stroke="#111" stroke-width="0.9"/>
<line x1="31.50" y1="290.02" x2="37.00" y2="290.02" stroke="#111" stroke-width="1"/>
<text x="26.10" y="292.92" text-anchor="end" class="tl">0.30</text>
<line x1="32.00" y1="286.85" x2="34.00" y2="286.85" stroke="#111" stroke-width="0.9"/>
<line x1="32.00" y1="283.67" x2="34.00" y2="283.67" stroke="#111" stroke-width="0.9"/>
<line x1="32.00" y1="280.50" x2="34.00" y2="280.50" stroke="#111" stroke-width="0.9"/>
<line x1="32.00" y1="277.32" x2="34.00" y2="277.32" stroke="#111" stroke-width="0.9"/>
<line x1="31.50" y1="274.15" x2="37.00" y2="274.15" stroke="#111" stroke-width="1"/>
<text x="26.10" y="277.05" text-anchor="end" class="tl">0.35</text>
<line x1="32.00" y1="270.98" x2="34.00" y2="270.98" stroke="#111" stroke-width="0.9"/>
<line x1="32.00" y1="267.80" x2="34.00" y2="267.80" stroke="#111" stroke-width="0.9"/>
<line x1="32.00" y1="264.63" x2="34.00" y2="264.63" stroke="#111" stroke-width="0.9"/>
<line x1="32.00" y1="261.45" x2="34.00" y2="261.45" stroke="#111" stroke-width="0.9"/>
<line x1="31.50" y1="258.28" x2="37.00" y2="258.28" stroke="#111" stroke-width="1"/>
<text x="26.10" y="261.18" text-anchor="end" class="tl">0.40</text>
<line x1="32.00" y1="255.11" x2="34.00" y2="255.11" stroke="#111" stroke-width="0.9"/>
<line x1="32.00" y1="251.93" x2="34.00" y2="251.93" stroke="#111" stroke-width="0.9"/>
<line x1="32.00" y1="248.76" x2="34.00" y2="248.76" stroke="#111" stroke-width="0.9"/>
<line x1="32.00" y1="245.58" x2="34.00" y2="245.58" stroke="#111" stroke-width="0.9"/>
<line x1="31.50" y1="242.41" x2="37.00" y2="242.41" stroke="#111" stroke-width="1"/>
<text x="26.10" y="245.31" text-anchor="end" class="tl">0.45</text>
<line x1="32.00" y1="239.24" x2="34.00" y2="239.24" stroke="#111" stroke-width="0.9"/>
<line x1="32.00" y1="236.06" x2="34.00" y2="236.06" stroke="#111" stroke-width="0.9"/>
<line x1="32.00" y1="232.89" x2="34.00" y2="232.89" stroke="#111" stroke-width="0.9"/>
<line x1="32.00" y1="229.71" x2="34.00" y2="229.71" stroke="#111" stroke-width="0.9"/>
<line x1="31.50" y1="226.54" x2="37.00" y2="226.54" stroke="#111" stroke-width="1"/>
<text x="26.10" y="229.44" text-anchor="end" class="tl">0.50</text>
<line x1="32.00" y1="223.37" x2="34.00" y2="223.37" stroke="#111" stroke-width="0.9"/>
<line x1="32.00" y1="220.19" x2="34.00" y2="220.19" stroke="#111" stroke-width="0.9"/>
<line x1="32.00" y1="217.02" x2="34.00" y2="217.02" stroke="#111" stroke-width="0.9"/>
<line x1="32.00" y1="213.84" x2="34.00" y2="213.84" stroke="#111" stroke-width="0.9"/>
<line x1="31.50" y1="210.67" x2="37.00" y2="210.67" stroke="#111" stroke-width="1"/>
<text x="26.10" y="213.57" text-anchor="end" class="tl">0.55</text>
<line x1="32.00" y1="207.50" x2="34.00" y2="207.50" stroke="#111" stroke-width="0.9"/>
<line x1="32.00" y1="204.32" x2="34.00" y2="204.32" stroke="#111" stroke-width="0.9"/>
<line x1="32.00" y1="201.15" x2="34.00" y2="201.15" stroke="#111" stroke-width="0.9"/>
<line x1="32.00" y1="197.97" x2="34.00" y2="197.97" stroke="#111" stroke-width="0.9"/>
<line x1="31.50" y1="194.80" x2="37.00" y2="194.80" stroke="#111" stroke-width="1"/>
<text x="26.10" y="197.70" text-anchor="end" class="tl">0.60</text>
<line x1="34.00" y1="351.00" x2="34.00" y2="356.00" stroke="#111" stroke-width="1"/>
<text x="34.00" y="367.50" text-anchor="middle" class="tl">0</text>
<line x1="39.52" y1="353.50" x2="39.52" y2="355.30" stroke="#111" stroke-width="0.9"/>
<line x1="45.03" y1="353.50" x2="45.03" y2="355.30" stroke="#111" stroke-width="0.9"/>
<line x1="50.55" y1="353.50" x2="50.55" y2="355.30" stroke="#111" stroke-width="0.9"/>
<line x1="56.07" y1="353.50" x2="56.07" y2="355.30" stroke="#111" stroke-width="0.9"/>
<line x1="61.58" y1="353.50" x2="61.58" y2="355.30" stroke="#111" stroke-width="0.9"/>
<line x1="67.10" y1="351.00" x2="67.10" y2="356.00" stroke="#111" stroke-width="1"/>
<text x="67.10" y="367.50" text-anchor="middle" class="tl">12</text>
<line x1="72.62" y1="353.50" x2="72.62" y2="355.30" stroke="#111" stroke-width="0.9"/>
<line x1="78.13" y1="353.50" x2="78.13" y2="355.30" stroke="#111" stroke-width="0.9"/>
<line x1="83.65" y1="353.50" x2="83.65" y2="355.30" stroke="#111" stroke-width="0.9"/>
<line x1="89.17" y1="353.50" x2="89.17" y2="355.30" stroke="#111" stroke-width="0.9"/>
<line x1="94.68" y1="353.50" x2="94.68" y2="355.30" stroke="#111" stroke-width="0.9"/>
<line x1="100.20" y1="351.00" x2="100.20" y2="356.00" stroke="#111" stroke-width="1"/>
<text x="100.20" y="367.50" text-anchor="middle" class="tl">24</text>
<line x1="105.72" y1="353.50" x2="105.72" y2="355.30" stroke="#111" stroke-width="0.9"/>
<line x1="111.23" y1="353.50" x2="111.23" y2="355.30" stroke="#111" stroke-width="0.9"/>
<line x1="116.75" y1="353.50" x2="116.75" y2="355.30" stroke="#111" stroke-width="0.9"/>
<line x1="122.27" y1="353.50" x2="122.27" y2="355.30" stroke="#111" stroke-width="0.9"/>
<line x1="127.78" y1="353.50" x2="127.78" y2="355.30" stroke="#111" stroke-width="0.9"/>
<line x1="133.30" y1="351.00" x2="133.30" y2="356.00" stroke="#111" stroke-width="1"/>
<text x="133.30" y="367.50" text-anchor="middle" class="tl">36</text>
<line x1="138.82" y1="353.50" x2="138.82" y2="355.30" stroke="#111" stroke-width="0.9"/>
<line x1="144.33" y1="353.50" x2="144.33" y2="355.30" stroke="#111" stroke-width="0.9"/>
<line x1="149.85" y1="353.50" x2="149.85" y2="355.30" stroke="#111" stroke-width="0.9"/>
<line x1="155.37" y1="353.50" x2="155.37" y2="355.30" stroke="#111" stroke-width="0.9"/>
<line x1="160.88" y1="353.50" x2="160.88" y2="355.30" stroke="#111" stroke-width="0.9"/>
<line x1="166.40" y1="351.00" x2="166.40" y2="356.00" stroke="#111" stroke-width="1"/>
<text x="166.40" y="367.50" text-anchor="middle" class="tl">48</text>
<text x="157.80" y="205.80" text-anchor="middle" font-weight="bold" font-size="12.7" fill="#000">C</text>
<text transform="translate(9.60,285.50) rotate(-90)" font-size="9" font-weight="bold" fill="#111">OD<tspan font-size="6.8" dy="2.6" font-weight="normal" stroke="#111" stroke-width="0.15">600</tspan></text>
<line x1="202.00" y1="194.30" x2="202.00" y2="354.10" stroke="#111" stroke-width="1.1"/>
<line x1="201.50" y1="353.60" x2="340.80" y2="353.60" stroke="#111" stroke-width="1.1"/>
<line x1="199.50" y1="353.60" x2="205.00" y2="353.60" stroke="#111" stroke-width="1"/>
<text x="194.10" y="356.50" text-anchor="end" class="tl">0.10</text>
<line x1="200.00" y1="350.07" x2="202.00" y2="350.07" stroke="#111" stroke-width="0.9"/>
<line x1="200.00" y1="346.54" x2="202.00" y2="346.54" stroke="#111" stroke-width="0.9"/>
<line x1="200.00" y1="343.01" x2="202.00" y2="343.01" stroke="#111" stroke-width="0.9"/>
<line x1="200.00" y1="339.48" x2="202.00" y2="339.48" stroke="#111" stroke-width="0.9"/>
<line x1="199.50" y1="335.96" x2="205.00" y2="335.96" stroke="#111" stroke-width="1"/>
<text x="194.10" y="338.86" text-anchor="end" class="tl">0.15</text>
<line x1="200.00" y1="332.43" x2="202.00" y2="332.43" stroke="#111" stroke-width="0.9"/>
<line x1="200.00" y1="328.90" x2="202.00" y2="328.90" stroke="#111" stroke-width="0.9"/>
<line x1="200.00" y1="325.37" x2="202.00" y2="325.37" stroke="#111" stroke-width="0.9"/>
<line x1="200.00" y1="321.84" x2="202.00" y2="321.84" stroke="#111" stroke-width="0.9"/>
<line x1="199.50" y1="318.31" x2="205.00" y2="318.31" stroke="#111" stroke-width="1"/>
<text x="194.10" y="321.21" text-anchor="end" class="tl">0.20</text>
<line x1="200.00" y1="314.78" x2="202.00" y2="314.78" stroke="#111" stroke-width="0.9"/>
<line x1="200.00" y1="311.25" x2="202.00" y2="311.25" stroke="#111" stroke-width="0.9"/>
<line x1="200.00" y1="307.72" x2="202.00" y2="307.72" stroke="#111" stroke-width="0.9"/>
<line x1="200.00" y1="304.20" x2="202.00" y2="304.20" stroke="#111" stroke-width="0.9"/>
<line x1="199.50" y1="300.67" x2="205.00" y2="300.67" stroke="#111" stroke-width="1"/>
<text x="194.10" y="303.57" text-anchor="end" class="tl">0.25</text>
<line x1="200.00" y1="297.14" x2="202.00" y2="297.14" stroke="#111" stroke-width="0.9"/>
<line x1="200.00" y1="293.61" x2="202.00" y2="293.61" stroke="#111" stroke-width="0.9"/>
<line x1="200.00" y1="290.08" x2="202.00" y2="290.08" stroke="#111" stroke-width="0.9"/>
<line x1="200.00" y1="286.55" x2="202.00" y2="286.55" stroke="#111" stroke-width="0.9"/>
<line x1="199.50" y1="283.02" x2="205.00" y2="283.02" stroke="#111" stroke-width="1"/>
<text x="194.10" y="285.92" text-anchor="end" class="tl">0.30</text>
<line x1="200.00" y1="279.49" x2="202.00" y2="279.49" stroke="#111" stroke-width="0.9"/>
<line x1="200.00" y1="275.96" x2="202.00" y2="275.96" stroke="#111" stroke-width="0.9"/>
<line x1="200.00" y1="272.44" x2="202.00" y2="272.44" stroke="#111" stroke-width="0.9"/>
<line x1="200.00" y1="268.91" x2="202.00" y2="268.91" stroke="#111" stroke-width="0.9"/>
<line x1="199.50" y1="265.38" x2="205.00" y2="265.38" stroke="#111" stroke-width="1"/>
<text x="194.10" y="268.28" text-anchor="end" class="tl">0.35</text>
<line x1="200.00" y1="261.85" x2="202.00" y2="261.85" stroke="#111" stroke-width="0.9"/>
<line x1="200.00" y1="258.32" x2="202.00" y2="258.32" stroke="#111" stroke-width="0.9"/>
<line x1="200.00" y1="254.79" x2="202.00" y2="254.79" stroke="#111" stroke-width="0.9"/>
<line x1="200.00" y1="251.26" x2="202.00" y2="251.26" stroke="#111" stroke-width="0.9"/>
<line x1="199.50" y1="247.73" x2="205.00" y2="247.73" stroke="#111" stroke-width="1"/>
<text x="194.10" y="250.63" text-anchor="end" class="tl">0.40</text>
<line x1="200.00" y1="244.20" x2="202.00" y2="244.20" stroke="#111" stroke-width="0.9"/>
<line x1="200.00" y1="240.68" x2="202.00" y2="240.68" stroke="#111" stroke-width="0.9"/>
<line x1="200.00" y1="237.15" x2="202.00" y2="237.15" stroke="#111" stroke-width="0.9"/>
<line x1="200.00" y1="233.62" x2="202.00" y2="233.62" stroke="#111" stroke-width="0.9"/>
<line x1="199.50" y1="230.09" x2="205.00" y2="230.09" stroke="#111" stroke-width="1"/>
<text x="194.10" y="232.99" text-anchor="end" class="tl">0.45</text>
<line x1="200.00" y1="226.56" x2="202.00" y2="226.56" stroke="#111" stroke-width="0.9"/>
<line x1="200.00" y1="223.03" x2="202.00" y2="223.03" stroke="#111" stroke-width="0.9"/>
<line x1="200.00" y1="219.50" x2="202.00" y2="219.50" stroke="#111" stroke-width="0.9"/>
<line x1="200.00" y1="215.97" x2="202.00" y2="215.97" stroke="#111" stroke-width="0.9"/>
<line x1="199.50" y1="212.44" x2="205.00" y2="212.44" stroke="#111" stroke-width="1"/>
<text x="194.10" y="215.34" text-anchor="end" class="tl">0.50</text>
<line x1="200.00" y1="208.92" x2="202.00" y2="208.92" stroke="#111" stroke-width="0.9"/>
<line x1="200.00" y1="205.39" x2="202.00" y2="205.39" stroke="#111" stroke-width="0.9"/>
<line x1="200.00" y1="201.86" x2="202.00" y2="201.86" stroke="#111" stroke-width="0.9"/>
<line x1="200.00" y1="198.33" x2="202.00" y2="198.33" stroke="#111" stroke-width="0.9"/>
<line x1="199.50" y1="194.80" x2="205.00" y2="194.80" stroke="#111" stroke-width="1"/>
<text x="194.10" y="197.70" text-anchor="end" class="tl">0.55</text>
<line x1="202.00" y1="351.10" x2="202.00" y2="356.10" stroke="#111" stroke-width="1"/>
<text x="202.00" y="367.60" text-anchor="middle" class="tl">0</text>
<line x1="207.76" y1="353.60" x2="207.76" y2="355.40" stroke="#111" stroke-width="0.9"/>
<line x1="213.53" y1="353.60" x2="213.53" y2="355.40" stroke="#111" stroke-width="0.9"/>
<line x1="219.29" y1="353.60" x2="219.29" y2="355.40" stroke="#111" stroke-width="0.9"/>
<line x1="225.05" y1="353.60" x2="225.05" y2="355.40" stroke="#111" stroke-width="0.9"/>
<line x1="230.81" y1="353.60" x2="230.81" y2="355.40" stroke="#111" stroke-width="0.9"/>
<line x1="236.57" y1="351.10" x2="236.57" y2="356.10" stroke="#111" stroke-width="1"/>
<text x="236.57" y="367.60" text-anchor="middle" class="tl">12</text>
<line x1="242.34" y1="353.60" x2="242.34" y2="355.40" stroke="#111" stroke-width="0.9"/>
<line x1="248.10" y1="353.60" x2="248.10" y2="355.40" stroke="#111" stroke-width="0.9"/>
<line x1="253.86" y1="353.60" x2="253.86" y2="355.40" stroke="#111" stroke-width="0.9"/>
<line x1="259.62" y1="353.60" x2="259.62" y2="355.40" stroke="#111" stroke-width="0.9"/>
<line x1="265.39" y1="353.60" x2="265.39" y2="355.40" stroke="#111" stroke-width="0.9"/>
<line x1="271.15" y1="351.10" x2="271.15" y2="356.10" stroke="#111" stroke-width="1"/>
<text x="271.15" y="367.60" text-anchor="middle" class="tl">24</text>
<line x1="276.91" y1="353.60" x2="276.91" y2="355.40" stroke="#111" stroke-width="0.9"/>
<line x1="282.68" y1="353.60" x2="282.68" y2="355.40" stroke="#111" stroke-width="0.9"/>
<line x1="288.44" y1="353.60" x2="288.44" y2="355.40" stroke="#111" stroke-width="0.9"/>
<line x1="294.20" y1="353.60" x2="294.20" y2="355.40" stroke="#111" stroke-width="0.9"/>
<line x1="299.96" y1="353.60" x2="299.96" y2="355.40" stroke="#111" stroke-width="0.9"/>
<line x1="305.73" y1="351.10" x2="305.73" y2="356.10" stroke="#111" stroke-width="1"/>
<text x="305.73" y="367.60" text-anchor="middle" class="tl">36</text>
<line x1="311.49" y1="353.60" x2="311.49" y2="355.40" stroke="#111" stroke-width="0.9"/>
<line x1="317.25" y1="353.60" x2="317.25" y2="355.40" stroke="#111" stroke-width="0.9"/>
<line x1="323.01" y1="353.60" x2="323.01" y2="355.40" stroke="#111" stroke-width="0.9"/>
<line x1="328.78" y1="353.60" x2="328.78" y2="355.40" stroke="#111" stroke-width="0.9"/>
<line x1="334.54" y1="353.60" x2="334.54" y2="355.40" stroke="#111" stroke-width="0.9"/>
<line x1="340.30" y1="351.10" x2="340.30" y2="356.10" stroke="#111" stroke-width="1"/>
<text x="340.30" y="367.60" text-anchor="middle" class="tl">48</text>
<text x="331.90" y="204.90" text-anchor="middle" font-weight="bold" font-size="12.7" fill="#000">D</text>
<line x1="33.60" y1="382.80" x2="33.60" y2="530.50" stroke="#111" stroke-width="1.1"/>
<line x1="33.10" y1="530.00" x2="123.40" y2="530.00" stroke="#111" stroke-width="1.1"/>
<line x1="31.10" y1="530.00" x2="36.60" y2="530.00" stroke="#111" stroke-width="1"/>
<text x="25.70" y="532.90" text-anchor="end" class="tl">0.1</text>
<line x1="31.60" y1="521.62" x2="33.60" y2="521.62" stroke="#111" stroke-width="0.9"/>
<line x1="31.60" y1="513.23" x2="33.60" y2="513.23" stroke="#111" stroke-width="0.9"/>
<line x1="31.60" y1="504.85" x2="33.60" y2="504.85" stroke="#111" stroke-width="0.9"/>
<line x1="31.60" y1="496.47" x2="33.60" y2="496.47" stroke="#111" stroke-width="0.9"/>
<line x1="31.10" y1="488.09" x2="36.60" y2="488.09" stroke="#111" stroke-width="1"/>
<text x="25.70" y="490.99" text-anchor="end" class="tl">0.2</text>
<line x1="31.60" y1="479.70" x2="33.60" y2="479.70" stroke="#111" stroke-width="0.9"/>
<line x1="31.60" y1="471.32" x2="33.60" y2="471.32" stroke="#111" stroke-width="0.9"/>
<line x1="31.60" y1="462.94" x2="33.60" y2="462.94" stroke="#111" stroke-width="0.9"/>
<line x1="31.60" y1="454.55" x2="33.60" y2="454.55" stroke="#111" stroke-width="0.9"/>
<line x1="31.10" y1="446.17" x2="36.60" y2="446.17" stroke="#111" stroke-width="1"/>
<text x="25.70" y="449.07" text-anchor="end" class="tl">0.3</text>
<line x1="31.60" y1="437.79" x2="33.60" y2="437.79" stroke="#111" stroke-width="0.9"/>
<line x1="31.60" y1="429.41" x2="33.60" y2="429.41" stroke="#111" stroke-width="0.9"/>
<line x1="31.60" y1="421.02" x2="33.60" y2="421.02" stroke="#111" stroke-width="0.9"/>
<line x1="31.60" y1="412.64" x2="33.60" y2="412.64" stroke="#111" stroke-width="0.9"/>
<line x1="31.10" y1="404.26" x2="36.60" y2="404.26" stroke="#111" stroke-width="1"/>
<text x="25.70" y="407.16" text-anchor="end" class="tl">0.4</text>
<line x1="31.60" y1="395.87" x2="33.60" y2="395.87" stroke="#111" stroke-width="0.9"/>
<line x1="31.60" y1="387.49" x2="33.60" y2="387.49" stroke="#111" stroke-width="0.9"/>
<line x1="33.60" y1="527.50" x2="33.60" y2="532.50" stroke="#111" stroke-width="1"/>
<text x="33.60" y="544.00" text-anchor="middle" class="tl">0</text>
<line x1="37.32" y1="530.00" x2="37.32" y2="531.80" stroke="#111" stroke-width="0.9"/>
<line x1="41.04" y1="530.00" x2="41.04" y2="531.80" stroke="#111" stroke-width="0.9"/>
<line x1="44.76" y1="530.00" x2="44.76" y2="531.80" stroke="#111" stroke-width="0.9"/>
<line x1="48.48" y1="530.00" x2="48.48" y2="531.80" stroke="#111" stroke-width="0.9"/>
<line x1="52.20" y1="530.00" x2="52.20" y2="531.80" stroke="#111" stroke-width="0.9"/>
<line x1="55.93" y1="527.50" x2="55.93" y2="532.50" stroke="#111" stroke-width="1"/>
<text x="55.93" y="544.00" text-anchor="middle" class="tl">12</text>
<line x1="59.65" y1="530.00" x2="59.65" y2="531.80" stroke="#111" stroke-width="0.9"/>
<line x1="63.37" y1="530.00" x2="63.37" y2="531.80" stroke="#111" stroke-width="0.9"/>
<line x1="67.09" y1="530.00" x2="67.09" y2="531.80" stroke="#111" stroke-width="0.9"/>
<line x1="70.81" y1="530.00" x2="70.81" y2="531.80" stroke="#111" stroke-width="0.9"/>
<line x1="74.53" y1="530.00" x2="74.53" y2="531.80" stroke="#111" stroke-width="0.9"/>
<line x1="78.25" y1="527.50" x2="78.25" y2="532.50" stroke="#111" stroke-width="1"/>
<text x="78.25" y="544.00" text-anchor="middle" class="tl">24</text>
<line x1="81.97" y1="530.00" x2="81.97" y2="531.80" stroke="#111" stroke-width="0.9"/>
<line x1="85.69" y1="530.00" x2="85.69" y2="531.80" stroke="#111" stroke-width="0.9"/>
<line x1="89.41" y1="530.00" x2="89.41" y2="531.80" stroke="#111" stroke-width="0.9"/>
<line x1="93.13" y1="530.00" x2="93.13" y2="531.80" stroke="#111" stroke-width="0.9"/>
<line x1="96.85" y1="530.00" x2="96.85" y2="531.80" stroke="#111" stroke-width="0.9"/>
<line x1="100.58" y1="527.50" x2="100.58" y2="532.50" stroke="#111" stroke-width="1"/>
<text x="100.58" y="544.00" text-anchor="middle" class="tl">36</text>
<line x1="104.30" y1="530.00" x2="104.30" y2="531.80" stroke="#111" stroke-width="0.9"/>
<line x1="108.02" y1="530.00" x2="108.02" y2="531.80" stroke="#111" stroke-width="0.9"/>
<line x1="111.74" y1="530.00" x2="111.74" y2="531.80" stroke="#111" stroke-width="0.9"/>
<line x1="115.46" y1="530.00" x2="115.46" y2="531.80" stroke="#111" stroke-width="0.9"/>
<line x1="119.18" y1="530.00" x2="119.18" y2="531.80" stroke="#111" stroke-width="0.9"/>
<line x1="122.90" y1="527.50" x2="122.90" y2="532.50" stroke="#111" stroke-width="1"/>
<text x="122.90" y="544.00" text-anchor="middle" class="tl">48</text>
<text x="117.25" y="393.70" text-anchor="middle" font-weight="bold" font-size="12.7" fill="#000">E</text>
<text transform="translate(9.60,467.30) rotate(-90)" font-size="9" font-weight="bold" fill="#111">OD<tspan font-size="6.8" dy="2.6" font-weight="normal" stroke="#111" stroke-width="0.15">600</tspan></text>
<line x1="151.90" y1="382.10" x2="151.90" y2="529.80" stroke="#111" stroke-width="1.1"/>
<line x1="151.40" y1="529.30" x2="232.70" y2="529.30" stroke="#111" stroke-width="1.1"/>
<line x1="149.40" y1="529.30" x2="154.90" y2="529.30" stroke="#111" stroke-width="1"/>
<text x="144.00" y="532.20" text-anchor="end" class="tl">0.1</text>
<line x1="149.90" y1="523.43" x2="151.90" y2="523.43" stroke="#111" stroke-width="0.9"/>
<line x1="149.90" y1="517.56" x2="151.90" y2="517.56" stroke="#111" stroke-width="0.9"/>
<line x1="149.90" y1="511.70" x2="151.90" y2="511.70" stroke="#111" stroke-width="0.9"/>
<line x1="149.90" y1="505.83" x2="151.90" y2="505.83" stroke="#111" stroke-width="0.9"/>
<line x1="149.40" y1="499.96" x2="154.90" y2="499.96" stroke="#111" stroke-width="1"/>
<text x="144.00" y="502.86" text-anchor="end" class="tl">0.2</text>
<line x1="149.90" y1="494.09" x2="151.90" y2="494.09" stroke="#111" stroke-width="0.9"/>
<line x1="149.90" y1="488.22" x2="151.90" y2="488.22" stroke="#111" stroke-width="0.9"/>
<line x1="149.90" y1="482.36" x2="151.90" y2="482.36" stroke="#111" stroke-width="0.9"/>
<line x1="149.90" y1="476.49" x2="151.90" y2="476.49" stroke="#111" stroke-width="0.9"/>
<line x1="149.40" y1="470.62" x2="154.90" y2="470.62" stroke="#111" stroke-width="1"/>
<text x="144.00" y="473.52" text-anchor="end" class="tl">0.3</text>
<line x1="149.90" y1="464.75" x2="151.90" y2="464.75" stroke="#111" stroke-width="0.9"/>
<line x1="149.90" y1="458.88" x2="151.90" y2="458.88" stroke="#111" stroke-width="0.9"/>
<line x1="149.90" y1="453.02" x2="151.90" y2="453.02" stroke="#111" stroke-width="0.9"/>
<line x1="149.90" y1="447.15" x2="151.90" y2="447.15" stroke="#111" stroke-width="0.9"/>
<line x1="149.40" y1="441.28" x2="154.90" y2="441.28" stroke="#111" stroke-width="1"/>
<text x="144.00" y="444.18" text-anchor="end" class="tl">0.4</text>
<line x1="149.90" y1="435.41" x2="151.90" y2="435.41" stroke="#111" stroke-width="0.9"/>
<line x1="149.90" y1="429.54" x2="151.90" y2="429.54" stroke="#111" stroke-width="0.9"/>
<line x1="149.90" y1="423.68" x2="151.90" y2="423.68" stroke="#111" stroke-width="0.9"/>
<line x1="149.90" y1="417.81" x2="151.90" y2="417.81" stroke="#111" stroke-width="0.9"/>
<line x1="149.40" y1="411.94" x2="154.90" y2="411.94" stroke="#111" stroke-width="1"/>
<text x="144.00" y="414.84" text-anchor="end" class="tl">0.5</text>
<line x1="149.90" y1="406.07" x2="151.90" y2="406.07" stroke="#111" stroke-width="0.9"/>
<line x1="149.90" y1="400.20" x2="151.90" y2="400.20" stroke="#111" stroke-width="0.9"/>
<line x1="149.90" y1="394.34" x2="151.90" y2="394.34" stroke="#111" stroke-width="0.9"/>
<line x1="149.90" y1="388.47" x2="151.90" y2="388.47" stroke="#111" stroke-width="0.9"/>
<line x1="149.40" y1="382.60" x2="154.90" y2="382.60" stroke="#111" stroke-width="1"/>
<text x="144.00" y="385.50" text-anchor="end" class="tl">0.6</text>
<line x1="151.90" y1="526.80" x2="151.90" y2="531.80" stroke="#111" stroke-width="1"/>
<text x="151.90" y="543.30" text-anchor="middle" class="tl">0</text>
<line x1="155.25" y1="529.30" x2="155.25" y2="531.10" stroke="#111" stroke-width="0.9"/>
<line x1="158.59" y1="529.30" x2="158.59" y2="531.10" stroke="#111" stroke-width="0.9"/>
<line x1="161.94" y1="529.30" x2="161.94" y2="531.10" stroke="#111" stroke-width="0.9"/>
<line x1="165.28" y1="529.30" x2="165.28" y2="531.10" stroke="#111" stroke-width="0.9"/>
<line x1="168.63" y1="529.30" x2="168.63" y2="531.10" stroke="#111" stroke-width="0.9"/>
<line x1="171.97" y1="526.80" x2="171.97" y2="531.80" stroke="#111" stroke-width="1"/>
<text x="171.97" y="543.30" text-anchor="middle" class="tl">12</text>
<line x1="175.32" y1="529.30" x2="175.32" y2="531.10" stroke="#111" stroke-width="0.9"/>
<line x1="178.67" y1="529.30" x2="178.67" y2="531.10" stroke="#111" stroke-width="0.9"/>
<line x1="182.01" y1="529.30" x2="182.01" y2="531.10" stroke="#111" stroke-width="0.9"/>
<line x1="185.36" y1="529.30" x2="185.36" y2="531.10" stroke="#111" stroke-width="0.9"/>
<line x1="188.70" y1="529.30" x2="188.70" y2="531.10" stroke="#111" stroke-width="0.9"/>
<line x1="192.05" y1="526.80" x2="192.05" y2="531.80" stroke="#111" stroke-width="1"/>
<text x="192.05" y="543.30" text-anchor="middle" class="tl">24</text>
<line x1="195.40" y1="529.30" x2="195.40" y2="531.10" stroke="#111" stroke-width="0.9"/>
<line x1="198.74" y1="529.30" x2="198.74" y2="531.10" stroke="#111" stroke-width="0.9"/>
<line x1="202.09" y1="529.30" x2="202.09" y2="531.10" stroke="#111" stroke-width="0.9"/>
<line x1="205.43" y1="529.30" x2="205.43" y2="531.10" stroke="#111" stroke-width="0.9"/>
<line x1="208.78" y1="529.30" x2="208.78" y2="531.10" stroke="#111" stroke-width="0.9"/>
<line x1="212.12" y1="526.80" x2="212.12" y2="531.80" stroke="#111" stroke-width="1"/>
<text x="212.12" y="543.30" text-anchor="middle" class="tl">36</text>
<line x1="215.47" y1="529.30" x2="215.47" y2="531.10" stroke="#111" stroke-width="0.9"/>
<line x1="218.82" y1="529.30" x2="218.82" y2="531.10" stroke="#111" stroke-width="0.9"/>
<line x1="222.16" y1="529.30" x2="222.16" y2="531.10" stroke="#111" stroke-width="0.9"/>
<line x1="225.51" y1="529.30" x2="225.51" y2="531.10" stroke="#111" stroke-width="0.9"/>
<line x1="228.85" y1="529.30" x2="228.85" y2="531.10" stroke="#111" stroke-width="0.9"/>
<line x1="232.20" y1="526.80" x2="232.20" y2="531.80" stroke="#111" stroke-width="1"/>
<text x="232.20" y="543.30" text-anchor="middle" class="tl">48</text>
<text x="225.00" y="392.70" text-anchor="middle" font-weight="bold" font-size="12.7" fill="#000">F</text>
<line x1="261.50" y1="382.90" x2="261.50" y2="530.00" stroke="#111" stroke-width="1.1"/>
<line x1="261.00" y1="529.50" x2="340.80" y2="529.50" stroke="#111" stroke-width="1.1"/>
<line x1="259.00" y1="529.50" x2="264.50" y2="529.50" stroke="#111" stroke-width="1"/>
<text x="253.60" y="532.40" text-anchor="end" class="tl">0.1</text>
<line x1="259.50" y1="522.20" x2="261.50" y2="522.20" stroke="#111" stroke-width="0.9"/>
<line x1="259.50" y1="514.89" x2="261.50" y2="514.89" stroke="#111" stroke-width="0.9"/>
<line x1="259.50" y1="507.58" x2="261.50" y2="507.58" stroke="#111" stroke-width="0.9"/>
<line x1="259.50" y1="500.28" x2="261.50" y2="500.28" stroke="#111" stroke-width="0.9"/>
<line x1="259.00" y1="492.98" x2="264.50" y2="492.98" stroke="#111" stroke-width="1"/>
<text x="253.60" y="495.88" text-anchor="end" class="tl">0.2</text>
<line x1="259.50" y1="485.67" x2="261.50" y2="485.67" stroke="#111" stroke-width="0.9"/>
<line x1="259.50" y1="478.37" x2="261.50" y2="478.37" stroke="#111" stroke-width="0.9"/>
<line x1="259.50" y1="471.06" x2="261.50" y2="471.06" stroke="#111" stroke-width="0.9"/>
<line x1="259.50" y1="463.75" x2="261.50" y2="463.75" stroke="#111" stroke-width="0.9"/>
<line x1="259.00" y1="456.45" x2="264.50" y2="456.45" stroke="#111" stroke-width="1"/>
<text x="253.60" y="459.35" text-anchor="end" class="tl">0.3</text>
<line x1="259.50" y1="449.14" x2="261.50" y2="449.14" stroke="#111" stroke-width="0.9"/>
<line x1="259.50" y1="441.84" x2="261.50" y2="441.84" stroke="#111" stroke-width="0.9"/>
<line x1="259.50" y1="434.53" x2="261.50" y2="434.53" stroke="#111" stroke-width="0.9"/>
<line x1="259.50" y1="427.23" x2="261.50" y2="427.23" stroke="#111" stroke-width="0.9"/>
<line x1="259.00" y1="419.92" x2="264.50" y2="419.92" stroke="#111" stroke-width="1"/>
<text x="253.60" y="422.82" text-anchor="end" class="tl">0.4</text>
<line x1="259.50" y1="412.62" x2="261.50" y2="412.62" stroke="#111" stroke-width="0.9"/>
<line x1="259.50" y1="405.31" x2="261.50" y2="405.31" stroke="#111" stroke-width="0.9"/>
<line x1="259.50" y1="398.01" x2="261.50" y2="398.01" stroke="#111" stroke-width="0.9"/>
<line x1="259.50" y1="390.70" x2="261.50" y2="390.70" stroke="#111" stroke-width="0.9"/>
<line x1="259.00" y1="383.40" x2="264.50" y2="383.40" stroke="#111" stroke-width="1"/>
<text x="253.60" y="386.30" text-anchor="end" class="tl">0.5</text>
<line x1="261.50" y1="527.00" x2="261.50" y2="532.00" stroke="#111" stroke-width="1"/>
<text x="261.50" y="543.50" text-anchor="middle" class="tl">0</text>
<line x1="264.78" y1="529.50" x2="264.78" y2="531.30" stroke="#111" stroke-width="0.9"/>
<line x1="268.07" y1="529.50" x2="268.07" y2="531.30" stroke="#111" stroke-width="0.9"/>
<line x1="271.35" y1="529.50" x2="271.35" y2="531.30" stroke="#111" stroke-width="0.9"/>
<line x1="274.63" y1="529.50" x2="274.63" y2="531.30" stroke="#111" stroke-width="0.9"/>
<line x1="277.92" y1="529.50" x2="277.92" y2="531.30" stroke="#111" stroke-width="0.9"/>
<line x1="281.20" y1="527.00" x2="281.20" y2="532.00" stroke="#111" stroke-width="1"/>
<text x="281.20" y="543.50" text-anchor="middle" class="tl">12</text>
<line x1="284.48" y1="529.50" x2="284.48" y2="531.30" stroke="#111" stroke-width="0.9"/>
<line x1="287.77" y1="529.50" x2="287.77" y2="531.30" stroke="#111" stroke-width="0.9"/>
<line x1="291.05" y1="529.50" x2="291.05" y2="531.30" stroke="#111" stroke-width="0.9"/>
<line x1="294.33" y1="529.50" x2="294.33" y2="531.30" stroke="#111" stroke-width="0.9"/>
<line x1="297.62" y1="529.50" x2="297.62" y2="531.30" stroke="#111" stroke-width="0.9"/>
<line x1="300.90" y1="527.00" x2="300.90" y2="532.00" stroke="#111" stroke-width="1"/>
<text x="300.90" y="543.50" text-anchor="middle" class="tl">24</text>
<line x1="304.18" y1="529.50" x2="304.18" y2="531.30" stroke="#111" stroke-width="0.9"/>
<line x1="307.47" y1="529.50" x2="307.47" y2="531.30" stroke="#111" stroke-width="0.9"/>
<line x1="310.75" y1="529.50" x2="310.75" y2="531.30" stroke="#111" stroke-width="0.9"/>
<line x1="314.03" y1="529.50" x2="314.03" y2="531.30" stroke="#111" stroke-width="0.9"/>
<line x1="317.32" y1="529.50" x2="317.32" y2="531.30" stroke="#111" stroke-width="0.9"/>
<line x1="320.60" y1="527.00" x2="320.60" y2="532.00" stroke="#111" stroke-width="1"/>
<text x="320.60" y="543.50" text-anchor="middle" class="tl">36</text>
<line x1="323.88" y1="529.50" x2="323.88" y2="531.30" stroke="#111" stroke-width="0.9"/>
<line x1="327.17" y1="529.50" x2="327.17" y2="531.30" stroke="#111" stroke-width="0.9"/>
<line x1="330.45" y1="529.50" x2="330.45" y2="531.30" stroke="#111" stroke-width="0.9"/>
<line x1="333.73" y1="529.50" x2="333.73" y2="531.30" stroke="#111" stroke-width="0.9"/>
<line x1="337.02" y1="529.50" x2="337.02" y2="531.30" stroke="#111" stroke-width="0.9"/>
<line x1="340.30" y1="527.00" x2="340.30" y2="532.00" stroke="#111" stroke-width="1"/>
<text x="340.30" y="543.50" text-anchor="middle" class="tl">48</text>
<text x="335.50" y="392.50" text-anchor="middle" font-weight="bold" font-size="12.7" fill="#000">G</text>
</svg>
</body></html>
